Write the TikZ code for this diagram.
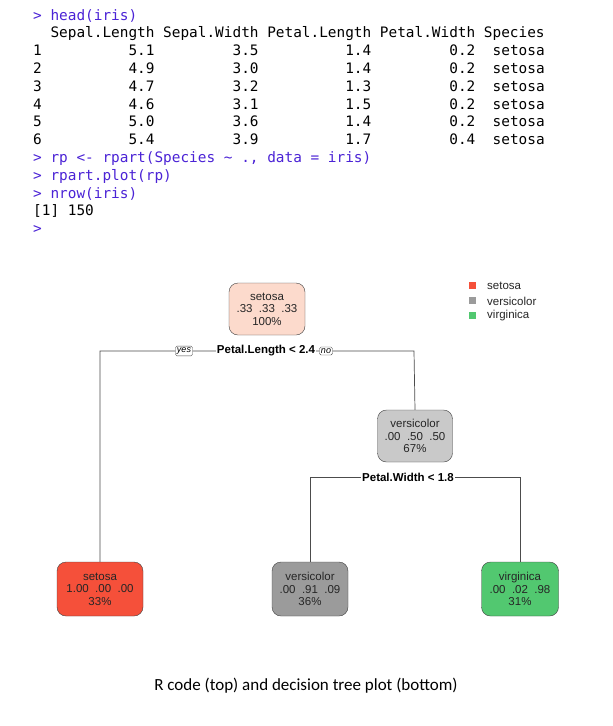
\documentclass[tikz,border=0pt]{standalone}
\usepackage{fontspec}
\setmainfont{Liberation Sans}
\newfontfamily\mymono{DejaVu Sans Mono}
\newfontfamily\mycapfont{Carlito}
\begin{document}
\begin{tikzpicture}[x=1pt,y=-1pt,
  cmdtxt/.style={anchor=base west,inner sep=0,text=cmdc,font=\mymono\fontsize{14.4}{14}\selectfont},
  outtxt/.style={anchor=base west,inner sep=0,text=black,font=\mymono\fontsize{14.4}{14}\selectfont},
  tnode/.style={draw=black!75,rounded corners=9pt,align=center,font=\fontsize{11.5}{12.5}\selectfont,text=black!85,inner sep=0,minimum height=52pt},
  treeedge/.style={draw=black!70,line width=0.7pt},
  splitlab/.style={fill=white,inner sep=1pt,font=\bfseries\fontsize{11.5}{12}\selectfont},
  yn/.style={draw=black!70,fill=white,rounded corners=1.5pt,inner sep=1.5pt,font=\itshape\fontsize{9}{10}\selectfont},
  leg/.style={anchor=west,inner sep=0,font=\fontsize{11.5}{12}\selectfont,text=black!85}]
\definecolor{cmdc}{HTML}{4B23D6}
\definecolor{rootc}{HTML}{FCDACC}
\definecolor{midc}{HTML}{C9C9C9}
\definecolor{setc}{HTML}{F5503A}
\definecolor{verc}{HTML}{9B9B9B}
\definecolor{virc}{HTML}{52C870}
\useasboundingbox (0,0) rectangle (613,726);
\fill[white] (0,0) rectangle (613,726);
% console
\node[cmdtxt] (l1) at (33,20) {>\ head(iris)};
\node[outtxt] (l2) at (33,37.8) {\ \ Sepal.Length Sepal.Width Petal.Length Petal.Width Species};
\node[outtxt] (l3) at (33,55.6) {1\ \ \ \ \ \ \ \ \ \ 5.1\ \ \ \ \ \ \ \ \ 3.5\ \ \ \ \ \ \ \ \ \ 1.4\ \ \ \ \ \ \ \ \ 0.2\ \ setosa};
\node[outtxt] (l4) at (33,73.4) {2\ \ \ \ \ \ \ \ \ \ 4.9\ \ \ \ \ \ \ \ \ 3.0\ \ \ \ \ \ \ \ \ \ 1.4\ \ \ \ \ \ \ \ \ 0.2\ \ setosa};
\node[outtxt] (l5) at (33,91.2) {3\ \ \ \ \ \ \ \ \ \ 4.7\ \ \ \ \ \ \ \ \ 3.2\ \ \ \ \ \ \ \ \ \ 1.3\ \ \ \ \ \ \ \ \ 0.2\ \ setosa};
\node[outtxt] (l6) at (33,109) {4\ \ \ \ \ \ \ \ \ \ 4.6\ \ \ \ \ \ \ \ \ 3.1\ \ \ \ \ \ \ \ \ \ 1.5\ \ \ \ \ \ \ \ \ 0.2\ \ setosa};
\node[outtxt] (l7) at (33,126.8) {5\ \ \ \ \ \ \ \ \ \ 5.0\ \ \ \ \ \ \ \ \ 3.6\ \ \ \ \ \ \ \ \ \ 1.4\ \ \ \ \ \ \ \ \ 0.2\ \ setosa};
\node[outtxt] (l8) at (33,144.6) {6\ \ \ \ \ \ \ \ \ \ 5.4\ \ \ \ \ \ \ \ \ 3.9\ \ \ \ \ \ \ \ \ \ 1.7\ \ \ \ \ \ \ \ \ 0.4\ \ setosa};
\node[cmdtxt] (l9) at (33,162.4) {>\ rp <- rpart(Species \char`~\ ., data = iris)};
\node[cmdtxt] (l10) at (33,180.2) {>\ rpart.plot(rp)};
\node[cmdtxt] (l11) at (33,198) {>\ nrow(iris)};
\node[outtxt] (l12) at (33,215.8) {[1] 150};
\node[cmdtxt] (l13) at (33,233.6) {>};
% tree nodes
\node[tnode,fill=rootc,minimum width=76pt] (root) at (267,309) {setosa\\.33\ \ .33\ \ .33\\100\%};
\node[tnode,fill=midc,minimum width=75pt] (mid) at (415,436) {versicolor\\.00\ \ .50\ \ .50\\67\%};
\node[tnode,fill=setc,minimum width=86pt,minimum height=54pt] (lset) at (100,589) {setosa\\1.00\ \ .00\ \ .00\\33\%};
\node[tnode,fill=verc,minimum width=76pt,minimum height=54pt] (lver) at (310,589) {versicolor\\.00\ \ .91\ \ .09\\36\%};
\node[tnode,fill=virc,minimum width=77pt,minimum height=54pt] (lvir) at (520,589) {virginica\\.00\ \ .02\ \ .98\\31\%};
% split coordinates
\coordinate (s1L) at (100,351);
\coordinate (s1R) at (414,351);
\coordinate (s2L) at (310,477);
\coordinate (s2R) at (520,477);
\draw[treeedge] (lset.north) -- (s1L) -- (s1R) -- (mid.north);
\draw[treeedge] (lver.north) -- (s2L) -- (s2R) -- (lvir.north);
\node[splitlab] (sp1) at (266,351) {Petal.Length < 2.4};
\node[yn] (yes) at (184,351) {yes};
\node[yn] (no) at (326,351) {no};
\node[splitlab] (sp2) at (408,477) {Petal.Width < 1.8};
% legend
\fill[setc] (469,282) rectangle (476,289);
\fill[verc] (469,297) rectangle (476,304);
\fill[virc] (469,312) rectangle (476,319);
\node[leg] (g1) at (487,286) {setosa};
\node[leg] (g2) at (487,301) {versicolor};
\node[leg] (g3) at (487,316) {virginica};
% caption
\node[font=\mycapfont\fontsize{17}{18}\selectfont] (cap) at (306,686) {R code (top) and decision tree plot (bottom)};
\end{tikzpicture}
\end{document}
